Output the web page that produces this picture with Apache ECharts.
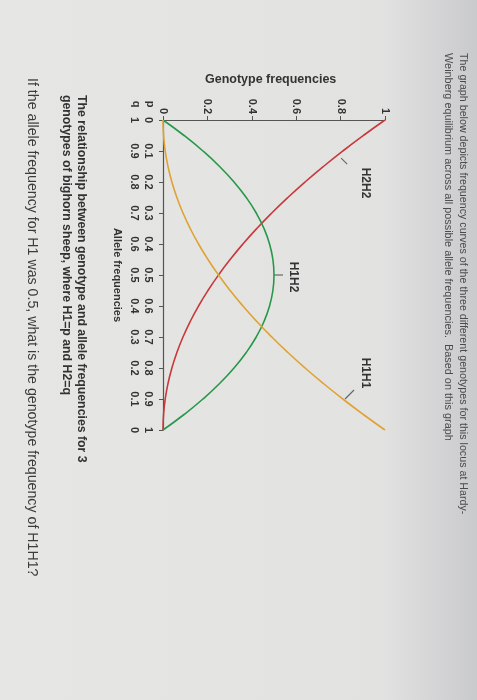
<!DOCTYPE html>
<html>
<head>
<meta charset="utf-8">
<script src="https://cdn.jsdelivr.net/npm/echarts@6/dist/echarts.min.js"></script>
<style>
  html, body { margin: 0; padding: 0; background: #e3e3e1; }
  #chart { width: 477px; height: 700px; }
</style>
</head>
<body>
<div id="chart"></div>
<script>
// allele frequency of H1 (p), read down the vertical axis
var pValues = [0, 0.05, 0.1, 0.15, 0.2, 0.25, 0.3, 0.35, 0.4, 0.45, 0.5,
               0.55, 0.6, 0.65, 0.7, 0.75, 0.8, 0.85, 0.9, 0.95, 1]
var h1h1 = [0, 0.0025, 0.01, 0.0225, 0.04, 0.0625, 0.09, 0.1225, 0.16, 0.2025, 0.25,
            0.3025, 0.36, 0.4225, 0.49, 0.5625, 0.64, 0.7225, 0.81, 0.9025, 1]
var h1h2 = [0, 0.095, 0.18, 0.255, 0.32, 0.375, 0.42, 0.455, 0.48, 0.495, 0.5,
            0.495, 0.48, 0.455, 0.42, 0.375, 0.32, 0.255, 0.18, 0.095, 0]
var h2h2 = [1, 0.9025, 0.81, 0.7225, 0.64, 0.5625, 0.49, 0.4225, 0.36, 0.3025, 0.25,
            0.2025, 0.16, 0.1225, 0.09, 0.0625, 0.04, 0.0225, 0.01, 0.0025, 0]
var pTicks = ['0', '0.1', '0.2', '0.3', '0.4', '0.5', '0.6', '0.7', '0.8', '0.9', '1']
var qTicks = ['1', '0.9', '0.8', '0.7', '0.6', '0.5', '0.4', '0.3', '0.2', '0.1', '0']

function pairs(vals) {
  var out = []
  for (var i = 0; i < vals.length; i++) out.push([vals[i], pValues[i]])
  return out
}

var font = 'Liberation Sans, Arial, sans-serif'
var myChart = echarts.init(document.getElementById('chart'))

var option = {
  backgroundColor: {
    type: 'linear', x: 0, y: 0, x2: 1, y2: 0,
    colorStops: [{ offset: 0, color: '#e6e6e4' }, { offset: 0.8, color: '#e2e2e1' }, { offset: 1, color: '#c9cacc' }]
  },
  animation: false,
  grid: { left: 163, top: 120, width: 222, height: 310 },
  xAxis: {
    type: 'value', position: 'top', min: 0, max: 1, interval: 0.2,
    axisLine: { show: true, lineStyle: { color: '#555', width: 1.2 } },
    axisTick: { show: true, length: 4, lineStyle: { color: '#555' } },
    splitLine: { show: false },
    axisLabel: { rotate: -90, color: '#333', fontSize: 11, fontWeight: 'bold', fontFamily: font, margin: 6,
      formatter: function (v) { return v === 0 || v === 1 ? String(v) : v.toFixed(1) } }
  },
  yAxis: {
    type: 'value', inverse: true, min: 0, max: 1, interval: 0.1,
    axisLine: { show: true, lineStyle: { color: '#555', width: 1.2 } },
    axisTick: { show: true, length: 4, lineStyle: { color: '#555' } },
    splitLine: { show: false },
    axisLabel: { rotate: -90, color: '#333', fontSize: 11, fontWeight: 'bold', fontFamily: font, margin: 8,
      lineHeight: 14,
      formatter: function (v) { var i = Math.round(v * 10); return pTicks[i] + '\n' + qTicks[i] } }
  },
  series: [
    { name: 'H2H2', type: 'line', data: pairs(h2h2), smooth: true, showSymbol: false,
      lineStyle: { color: '#c9383a', width: 1.6 } },
    { name: 'H1H2', type: 'line', data: pairs(h1h2), smooth: true, showSymbol: false,
      lineStyle: { color: '#27984a', width: 1.6 } },
    { name: 'H1H1', type: 'line', data: pairs(h1h1), smooth: true, showSymbol: false,
      lineStyle: { color: '#e0a233', width: 1.6 } }
  ]
}
myChart.setOption(option)

function px(x, y) { return myChart.convertToPixel({ gridIndex: 0 }, [x, y]) }
function vtext(x, y, str, size, weight, color, align) {
  return { type: 'text', x: x, y: y, rotation: -Math.PI / 2,
    style: { text: str, fontSize: size, fontWeight: weight || 'normal', fill: color || '#333',
      fontFamily: font, align: align || 'left', verticalAlign: 'middle' } }
}
function leader(a, b) {
  return { type: 'line', shape: { x1: a[0], y1: a[1], x2: b[0], y2: b[1] },
    style: { stroke: '#666', lineWidth: 1.2 } }
}

var a1 = px(0.78, 0.12), a2 = px(0.5, 0.5), a3 = px(0.82, 0.9)
var mid = px(0.5, 0.5)

myChart.setOption({
  graphic: [
    vtext(463, 53, 'The graph below depicts frequency curves of the three different genotypes for this locus at Hardy-', 10.7, 'normal', '#4a4a4a'),
    vtext(448, 53, 'Weinberg equilibrium across all possible allele frequencies.  Based on this graph', 10.9, 'normal', '#4a4a4a'),
    { type: 'text', x: 205, y: 80, style: { text: 'Genotype frequencies', fontSize: 12.5, fontWeight: 'bold',
      fill: '#333', fontFamily: font, verticalAlign: 'middle' } },
    vtext(150, 104, 'p', 11, 'bold', '#333', 'center'),
    vtext(136, 104, 'q', 11, 'bold', '#333', 'center'),
    vtext(117, mid[1], 'Allele frequencies', 11, 'bold', '#333', 'center'),
    vtext(81, 95, 'The relationship between genotype and allele frequencies for 3', 12.3, 'bold', '#333'),
    vtext(66, 95, 'genotypes of bighorn sheep, where H1=p and H2=q', 12.3, 'bold', '#333'),
    vtext(32, 78, 'If the allele frequency for H1 was 0.5, what is the genotype frequency of H1H1?', 14.2, 'normal', '#3c3c3c'),
    leader([a1[0] + 5, a1[1] + 1], [a1[0] + 11, a1[1] + 7]),
    leader([a2[0] - 0, a2[1]], [a2[0] + 9, a2[1]]),
    leader([a3[0], a3[1]], [a3[0] + 9, a3[1] - 9]),
    vtext(365, 183, 'H2H2', 12, 'bold', '#333', 'center'),
    vtext(293, 277, 'H1H2', 12, 'bold', '#333', 'center'),
    vtext(365, 373, 'H1H1', 12, 'bold', '#333', 'center')
  ]
})
</script>
</body>
</html>
